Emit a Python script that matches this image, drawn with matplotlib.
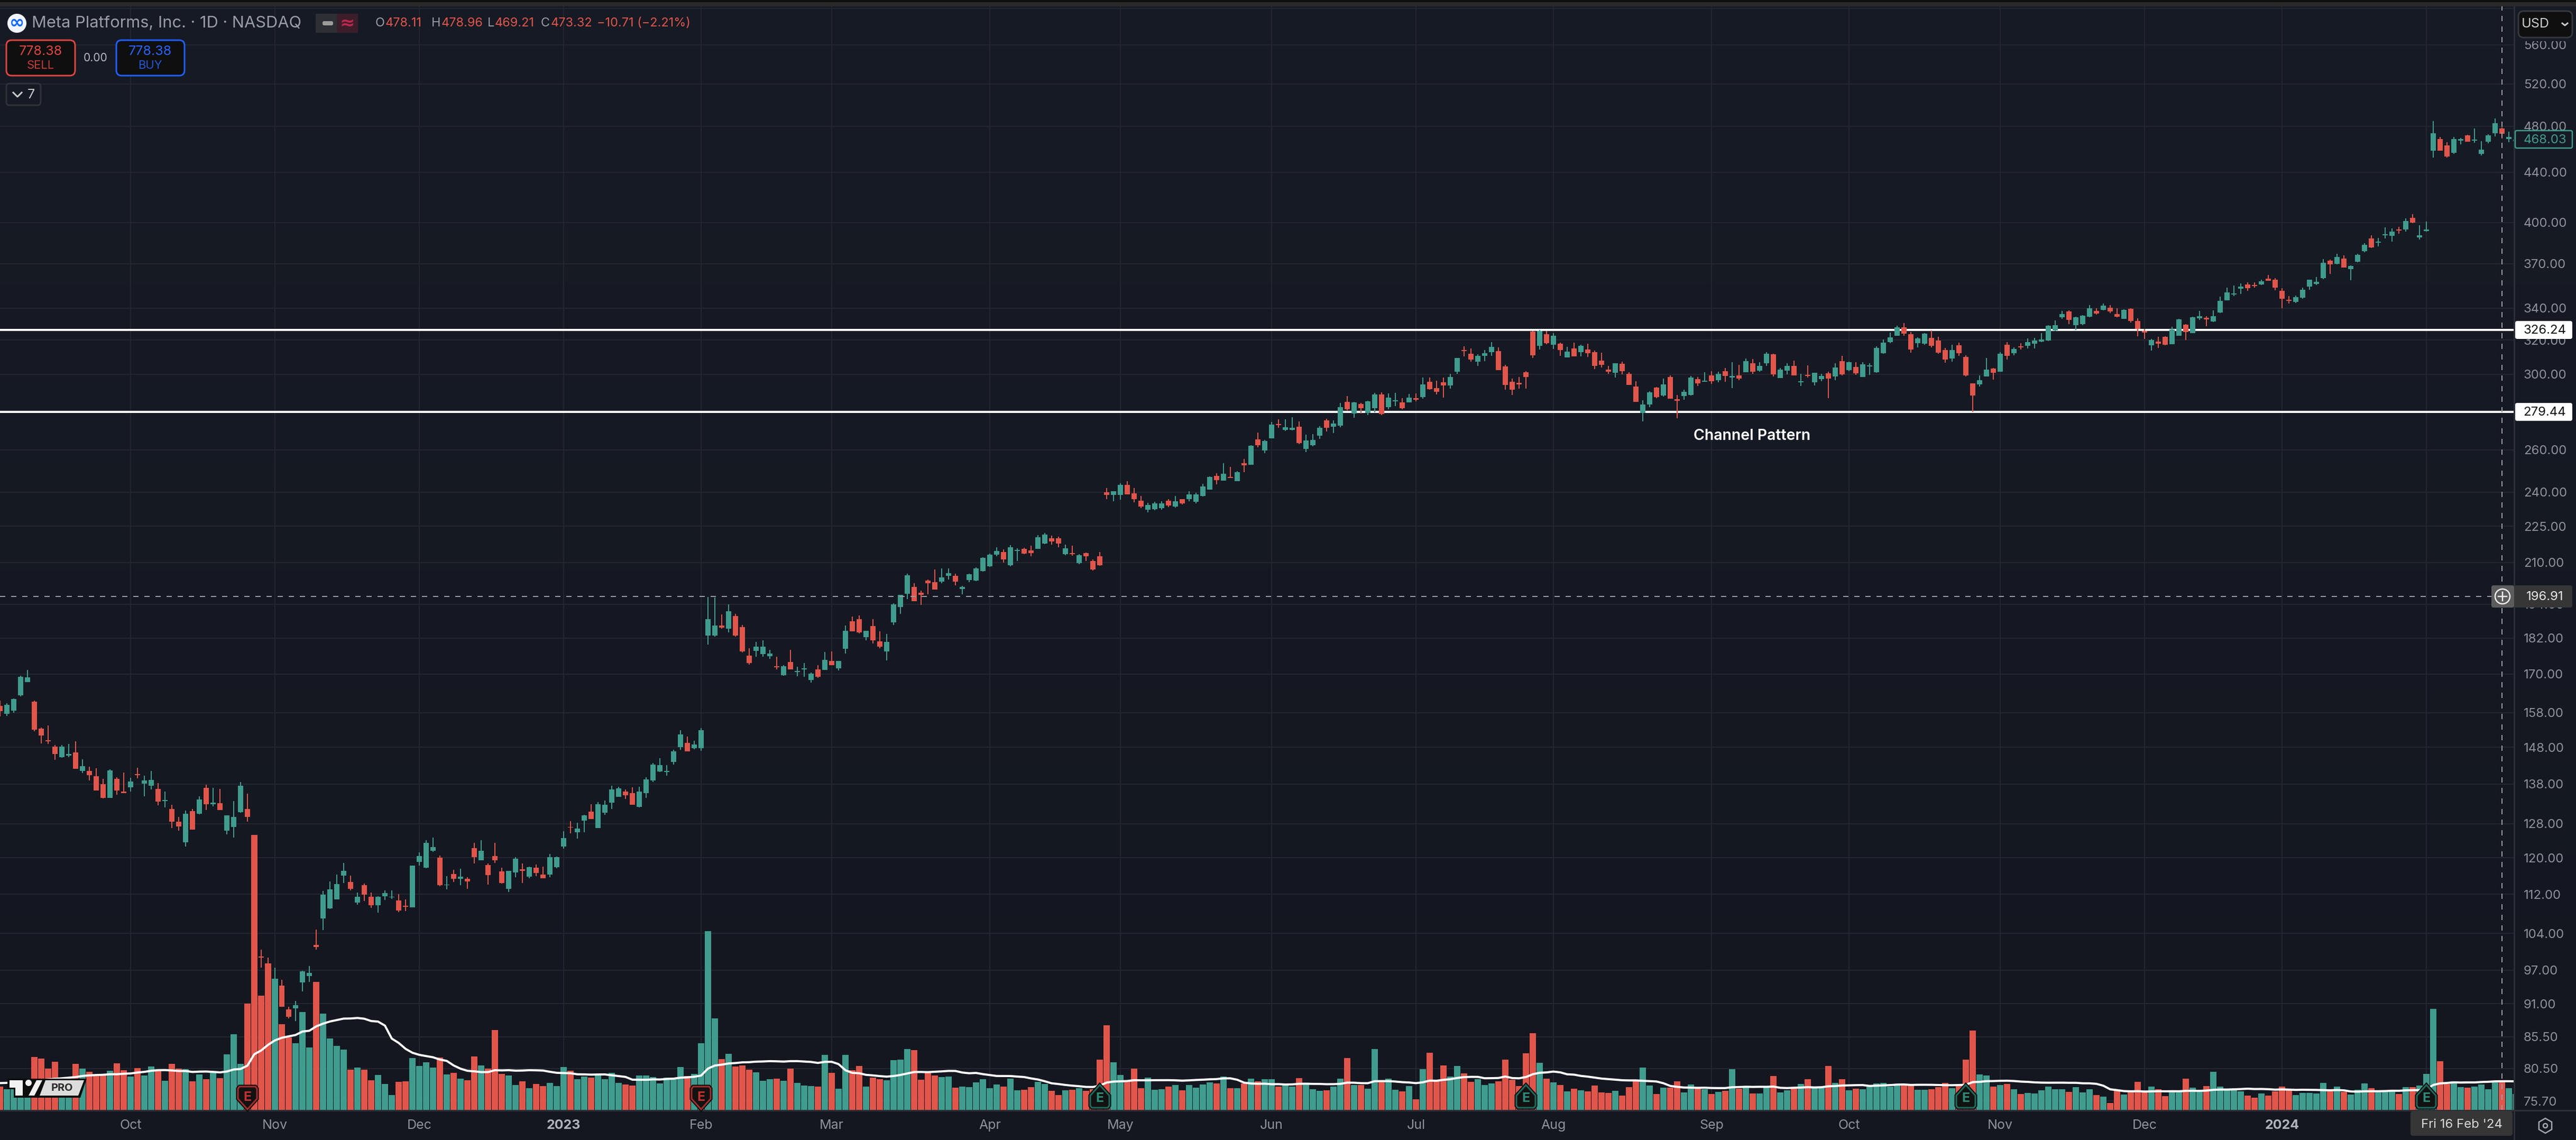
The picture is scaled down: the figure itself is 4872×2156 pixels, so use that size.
import numpy as np
import pandas as pd
import matplotlib
matplotlib.use("Agg")
import matplotlib.pyplot as plt
from matplotlib.patches import Rectangle, FancyBboxPatch, Polygon, Circle, RegularPolygon
from matplotlib.ticker import NullLocator

plt.rcParams['font.family'] = ['Inter', 'DejaVu Sans']
plt.rcParams['lines.scale_dashes'] = False

opens = [
160.0,157.6,158.6,163.2,167.4,161.4,153.3,150.0,148.1,145.2,
145.7,146.5,141.5,141.5,140.1,138.0,134.5,139.4,136.1,137.1,
140.7,138.1,137.6,136.8,133.6,131.7,128.5,123.6,131.1,130.4,
137.0,132.8,133.1,126.3,127.2,130.8,131.7,108.0,99.5,98.0,
93.0,94.2,90.0,90.2,94.8,95.9,101.7,107.0,109.0,110.9,
116.0,114.6,110.2,113.9,111.5,109.7,111.6,111.3,110.7,109.6,
109.3,119.1,117.8,121.6,120.0,113.9,116.4,115.3,115.3,122.2,
119.4,118.4,120.4,116.9,113.2,116.7,117.4,115.8,117.8,116.2,
116.2,117.9,122.6,127.2,125.9,128.8,131.0,127.0,130.7,133.2,
134.7,136.1,135.7,132.1,135.7,138.9,141.4,141.2,143.9,148.0,
149.2,147.7,147.7,182.9,182.9,186.3,185.2,189.7,185.9,176.1,
177.7,176.6,175.9,172.6,169.7,174.0,170.6,171.5,168.1,171.5,
171.3,174.3,171.8,178.3,187.9,188.7,182.3,186.2,180.8,177.5,
187.5,193.0,197.9,200.5,198.4,203.0,202.4,202.6,204.8,204.7,
199.8,203.2,203.0,206.6,208.6,213.1,214.2,209.0,214.6,215.5,
214.8,215.5,217.7,219.9,219.9,213.3,213.7,209.7,213.7,210.7,
212.5,240.0,238.8,238.6,243.3,239.5,236.1,232.0,232.4,232.8,
236.1,233.5,236.9,236.9,235.6,238.3,241.0,247.5,245.3,247.0,
245.0,253.5,252.8,265.2,259.7,265.7,273.1,270.0,270.0,271.6,
260.5,262.3,267.0,275.0,271.6,272.2,284.8,278.6,283.6,278.8,
281.4,288.8,282.0,285.0,284.5,284.5,286.7,287.3,295.8,292.3,
295.5,293.8,301.5,314.1,311.9,307.3,310.7,312.9,313.5,304.6,
295.8,295.2,301.3,325.4,316.8,323.8,317.3,317.9,309.8,315.0,
312.9,314.4,312.9,307.9,302.8,301.0,306.0,300.3,293.1,278.8,
283.3,292.6,288.2,298.5,286.2,287.9,288.5,297.3,295.8,299.4,
296.7,301.8,298.1,299.4,301.2,306.4,302.1,306.4,311.7,297.8,
302.1,304.9,295.5,299.7,295.5,297.2,300.6,298.7,307.5,302.3,
304.1,298.4,304.4,301.1,312.2,318.9,322.8,328.0,323.7,318.2,
317.9,321.4,319.9,314.2,309.2,317.0,310.0,294.8,294.3,298.7,
303.2,301.4,317.3,312.2,316.3,316.6,317.9,319.2,319.9,326.0,
334.2,337.9,329.2,329.9,334.5,338.2,338.9,340.3,336.2,333.2,
339.6,331.9,325.7,317.0,319.2,322.1,317.6,322.8,329.6,324.3,
333.6,333.8,331.5,337.2,345.1,348.9,352.8,355.6,355.2,355.6,
359.5,358.8,351.4,345.5,344.1,346.9,354.2,356.0,359.9,372.0,
369.8,373.5,366.0,371.3,378.8,388.0,385.0,390.4,390.0,394.7,
394.7,403.5,388.8,393.5,458.1,468.7,463.1,456.7,467.0,471.9,
467.0,455.7,466.2,473.7,478.11,468.5,466.5]
highs = [
161.6,160.9,162.3,169.5,171.3,161.6,153.6,154.2,148.6,148.6,
148.9,149.7,144.7,142.6,142.2,139.4,141.9,139.8,141.1,139.7,
142.4,140.2,141.5,138.3,136.0,132.7,129.7,131.2,131.7,134.9,
137.9,137.0,136.8,130.1,133.6,138.5,135.5,110.0,100.8,99.3,
97.5,95.2,90.5,91.5,96.9,97.8,104.8,112.7,114.8,116.2,
118.8,116.0,112.4,114.3,112.4,111.6,112.8,112.8,112.0,110.9,
118.2,121.2,124.1,124.7,120.5,115.9,117.3,117.5,115.7,123.4,
124.1,118.7,123.4,117.8,117.1,120.2,118.7,118.0,118.5,118.0,
120.9,120.3,126.2,128.7,128.2,130.2,132.8,133.3,133.7,137.6,
137.3,136.6,137.2,137.3,139.8,143.6,145.0,143.1,147.2,152.9,
151.0,149.8,153.4,196.8,196.5,190.4,194.0,190.6,186.5,178.5,
180.7,181.3,177.9,175.6,172.9,177.9,172.4,173.5,170.4,172.8,
177.3,177.5,174.3,186.3,189.5,190.0,184.6,188.7,184.3,183.4,
194.4,197.5,205.7,201.9,199.2,203.4,207.3,207.7,207.6,205.7,
201.0,205.7,208.0,212.0,213.5,216.1,215.3,217.0,215.7,215.9,
216.8,221.2,222.1,221.0,220.6,217.3,216.8,213.3,214.0,211.2,
214.2,241.9,240.4,244.1,245.0,241.9,238.3,235.2,235.6,235.9,
236.9,238.3,236.9,240.4,239.7,243.8,247.2,248.7,253.5,251.8,
249.8,255.6,262.3,268.6,264.8,274.1,275.5,275.5,276.6,274.4,
267.6,267.8,272.0,275.8,275.0,284.2,287.9,284.8,284.2,285.3,
289.6,289.9,289.3,289.6,286.7,289.0,289.3,298.2,298.2,296.4,
298.2,300.3,309.5,316.3,315.0,311.6,314.1,318.9,315.7,305.5,
297.6,298.5,301.8,325.7,326.3,325.7,324.4,318.5,316.0,318.5,
317.3,317.9,313.8,312.6,304.8,306.4,307.3,301.3,296.1,285.6,
290.4,292.9,297.6,299.4,288.5,291.4,299.1,298.5,301.3,301.8,
301.5,303.5,307.0,305.5,309.2,308.9,306.9,312.9,312.0,303.6,
306.4,307.8,300.3,305.2,300.9,300.3,301.5,306.3,310.6,307.2,
306.9,306.9,306.3,316.3,320.5,324.7,328.9,330.6,325.0,321.7,
324.3,326.0,322.1,315.4,317.3,318.5,310.9,294.8,299.3,309.4,
303.5,312.9,318.8,315.7,318.2,321.1,321.4,324.3,329.2,332.2,
338.2,338.5,334.5,335.5,342.0,339.9,343.0,342.0,339.9,339.2,
339.9,333.6,327.0,320.8,322.1,322.5,328.2,333.2,329.9,334.5,
338.2,334.8,338.5,347.5,353.5,354.9,356.3,357.0,357.0,358.8,
362.1,359.9,353.2,347.9,348.2,353.5,358.8,360.6,373.1,372.7,
376.9,375.7,368.6,376.9,384.6,390.3,388.4,396.4,395.6,396.7,
403.1,406.3,397.9,400.8,484.8,470.6,465.6,470.6,469.5,472.5,
478.0,466.8,473.0,487.2,478.96,475.0,470.6]
lows = [
156.8,157.1,157.9,163.0,167.4,152.6,149.1,148.9,144.5,145.1,
145.2,142.0,140.9,139.0,136.3,134.3,134.4,135.3,135.6,136.1,
139.5,134.9,136.6,132.6,132.0,127.0,126.3,122.6,126.6,130.3,
131.4,132.3,131.4,125.5,124.7,130.7,128.5,96.0,97.5,92.5,
92.5,90.5,88.5,88.1,93.2,94.9,100.8,104.6,108.9,110.9,
114.4,112.8,109.8,110.6,109.1,108.2,110.8,111.0,108.3,108.5,
109.3,118.3,117.7,121.4,113.7,113.0,114.6,113.9,113.2,118.7,
119.4,114.1,118.9,114.3,112.5,115.7,114.4,115.5,115.9,115.5,
115.7,117.7,122.1,125.7,124.4,126.0,129.2,127.0,130.2,131.6,
134.7,134.2,132.7,132.0,134.5,138.5,141.2,140.2,143.2,147.3,
146.8,147.4,147.0,179.8,182.5,185.2,184.0,182.5,177.0,173.1,
175.6,175.6,175.0,171.5,169.4,171.5,169.3,169.1,167.2,168.7,
171.3,172.8,171.1,176.8,184.3,183.6,181.2,180.1,178.5,174.4,
186.5,190.6,195.9,195.2,193.8,197.7,199.5,202.0,203.4,201.2,
197.7,202.4,202.8,206.4,208.2,212.5,209.9,208.6,210.5,213.3,
212.5,215.5,217.5,217.3,216.1,212.9,212.7,209.4,210.7,206.9,
208.8,236.9,235.9,236.6,239.0,235.4,232.8,231.0,231.8,232.2,
233.2,233.0,234.4,235.9,235.0,237.9,241.0,243.6,245.3,246.5,
245.0,249.3,252.8,261.2,258.4,265.7,271.1,269.5,269.7,262.8,
258.9,261.8,265.4,269.2,268.4,271.4,280.3,276.4,278.6,277.7,
279.1,277.7,280.8,282.5,280.8,284.5,285.0,286.4,291.4,288.8,
287.0,292.0,300.3,310.4,307.3,304.9,307.6,310.7,302.5,291.4,
288.5,292.0,292.0,309.4,314.4,317.7,314.8,310.7,309.8,310.4,
310.4,310.1,303.0,304.0,300.3,298.2,300.0,294.0,284.8,274.4,
282.0,286.7,287.6,286.4,276.0,285.9,288.2,293.5,295.8,294.6,
295.5,295.8,292.3,296.7,301.2,300.3,301.5,304.9,298.8,297.8,
300.0,299.4,293.5,298.2,293.8,296.1,286.8,296.6,299.3,301.7,
299.6,298.4,299.6,300.8,311.9,318.2,322.8,322.8,312.6,315.7,
317.3,315.7,311.9,306.7,307.2,310.6,298.7,279.4,293.1,298.7,
296.9,301.4,308.4,311.0,314.4,315.1,315.1,318.9,319.6,325.7,
333.2,329.9,326.3,329.2,334.2,335.9,338.5,336.9,334.2,333.2,
330.9,322.5,320.8,313.9,315.4,317.0,317.6,322.8,320.2,324.3,
332.5,328.6,331.2,336.9,345.1,347.9,349.3,351.4,353.5,355.2,
358.1,351.7,339.9,343.0,343.4,346.3,352.1,355.2,359.2,362.8,
369.4,367.2,358.5,370.9,378.1,381.2,382.2,388.0,385.7,391.6,
393.2,399.5,387.3,393.2,452.2,458.1,452.2,455.7,463.9,466.2,
465.4,454.1,465.0,471.0,469.21,465.6,465.0]
closes = [
158.4,160.4,162.1,169.1,169.0,153.0,151.3,149.7,146.1,148.1,
146.1,142.0,142.7,140.3,136.4,134.4,141.6,136.4,135.6,138.7,
140.4,139.0,139.1,133.5,133.9,128.5,127.4,130.4,126.6,134.0,
132.8,133.2,131.4,130.1,129.7,137.6,129.7,98.0,99.3,93.2,
95.0,90.5,88.8,90.8,96.8,96.5,101.3,111.9,113.0,114.2,
117.1,113.2,111.5,111.9,109.7,111.5,112.3,111.5,108.6,109.4,
118.2,120.4,123.5,122.5,114.0,114.1,115.3,115.8,114.7,120.2,
121.6,116.1,119.4,114.4,117.1,119.8,117.1,117.9,116.6,115.5,
120.2,120.2,124.6,127.1,126.9,130.0,129.2,132.8,132.7,136.6,
136.9,135.1,132.7,136.1,139.2,143.2,143.1,141.5,146.9,151.6,
146.8,148.8,152.9,188.6,186.3,185.6,191.4,182.9,177.5,173.6,
179.1,179.1,176.8,172.2,172.6,171.5,171.0,171.8,170.1,169.1,
174.7,172.9,174.3,184.6,184.3,184.0,184.5,181.3,179.1,180.6,
194.0,197.5,204.9,195.2,197.5,201.9,199.5,204.1,205.9,202.6,
200.6,205.3,207.7,211.8,213.1,214.6,211.2,216.1,215.1,213.5,
213.7,220.3,221.4,218.6,217.7,215.7,213.3,212.9,212.5,207.3,
209.0,238.6,240.4,243.3,239.0,236.7,233.5,234.2,234.8,235.0,
233.9,235.9,235.0,239.0,239.0,242.6,246.9,245.5,248.5,246.5,
249.3,252.5,262.0,262.3,264.5,272.8,272.5,271.4,271.1,263.3,
264.6,264.8,271.1,271.1,273.3,282.0,280.8,284.5,281.4,285.0,
288.8,278.3,287.0,285.6,281.4,287.0,285.9,294.4,291.7,290.3,
293.8,298.5,309.5,313.5,308.5,310.7,312.2,316.0,302.5,294.0,
291.4,294.4,298.5,311.0,325.7,318.3,322.8,314.1,313.2,310.4,
316.7,312.2,304.8,305.5,301.5,306.4,301.8,294.0,284.8,283.3,
289.8,287.3,294.4,286.4,285.3,290.3,298.2,294.9,296.4,296.1,
300.3,299.1,299.0,297.6,307.6,301.5,304.9,312.0,300.0,302.7,
304.9,299.4,296.1,299.1,300.9,299.1,297.5,303.8,299.9,306.9,
300.5,305.7,305.0,315.4,318.5,321.7,328.0,324.1,314.4,321.1,
324.0,316.6,312.6,308.6,314.2,312.2,299.3,288.2,296.6,302.6,
300.8,312.0,310.6,314.8,315.7,318.9,319.9,320.5,328.9,329.2,
336.2,332.5,334.2,335.2,339.9,336.5,341.6,337.9,334.5,338.9,
331.9,327.0,324.7,320.2,317.9,317.3,326.6,332.9,325.0,334.2,
334.8,332.9,334.8,344.7,350.3,349.6,354.2,353.1,354.5,357.7,
358.1,353.5,346.3,344.8,347.2,352.1,358.8,357.4,370.5,369.4,
374.6,367.2,368.2,376.1,383.4,381.6,385.7,391.2,393.2,393.9,
401.1,399.9,390.4,394.7,473.7,458.1,453.2,468.7,468.7,466.2,
468.1,459.0,471.9,482.9,473.32,470.6,468.03]
volumes = [
20.4,17.9,19.0,24,24,46.2,44.8,35.8,42,25,
25,40,35.8,33.3,30.8,30.8,34.2,40.6,34.7,29.1,
36.4,29.7,37.8,34.4,25.5,40,35.8,35.6,24.9,30.8,
26.9,33.3,27.7,48.4,65.8,40,92.4,239.4,99.4,127.4,
114,74.5,63,58,85.1,54.3,111.2,83.7,62.2,55.7,
52.4,35,37,35,25.8,30.5,22.7,12.9,24.4,24.9,
45.1,38.4,41.4,37,45.6,30.8,32.2,27.2,25.8,46.5,
38.6,35.8,69.4,31.4,30,21.8,24.9,18.9,22.5,20.7,
23.5,20.7,37.3,34,26.7,29,28.1,29.9,26.7,32.2,
23.5,22.1,21.2,29.9,29.9,28.5,23,28.1,28.1,37.3,
29.4,31.3,58,155.4,79.6,44.2,48.8,37.7,38.6,35,
32.7,25.3,26.7,27.1,25.3,35.9,23.5,21.2,20.7,20.2,
47.8,32.2,18.4,47.8,34.5,38.2,20.2,28.1,26.7,25.8,
43.2,43.7,52.9,52,26.2,32.7,29.9,28.5,29,19.3,
20.2,19.8,23.9,26.7,18.9,22.1,20.2,27.1,17,17.5,
19.8,24.4,22.5,16.6,12.9,17,17.5,18.9,16.6,18,
43.7,73.6,41.4,30.4,24.8,35.9,18.9,28.1,17.5,17.9,
20.2,21.6,17,21.6,19.3,22.1,23.9,23,29,18.9,
18.9,23,27.1,24.8,26.7,26.7,20.2,21.2,20.2,27.6,
22.5,17.9,16.6,17,20.2,27.1,45.1,21.6,21.6,18.4,
52.9,24.8,27.1,17.5,16.1,20.7,9.2,35.4,49.7,24.8,
38.6,29,38.2,31.7,24.4,26.7,21.6,23,24.8,43.7,
26.2,20.7,49.2,66.7,40.9,27.1,23.9,21.6,16.1,18.4,
17,16.1,21.2,15.2,14.7,16.6,12.4,19.8,24.8,36.8,
21.2,13.8,19.3,19.3,24.8,15.2,22.1,18.4,17.9,13.8,
15.6,16.6,35.4,18.4,19.3,14.3,14.3,19.3,29.4,15.2,
17,18.9,22.5,26.7,19.3,19.3,38.2,23.5,26.7,17,
18.4,17.9,20.7,23,23.5,20.2,22.5,21.6,21.6,17.5,
17.5,17.9,19.8,23.5,18.9,21.8,43.7,69,30.8,29.9,
20.2,21.6,22.5,17.9,13.8,14.7,14.3,17,20.2,17.9,
17.9,15.6,19.8,15.2,17.9,12.9,11.5,6,16.4,13.3,
16.1,24.4,16.1,20.2,17.9,12,16.1,16.1,27.1,19.3,
16.1,20.7,33.1,20.2,17.5,17,16.1,12.4,10.6,14.3,
12.4,16.1,20.2,17,12.9,14.7,14.7,14.3,23.5,17,
20.2,15.6,13.3,17.5,23,18.9,15.6,15.6,15.6,13.8,
19.8,19.8,21.2,31.3,87.8,42.3,22.5,24.8,19.8,19.3,
20.2,22.1,17.9,24.8,24.8,18.9,13.8]
# the 20-bar volume average before enough bars are on the chart
volume_ma_start = [23.3,23.5,24,24.5,25,25.5,26,26.5,27,27.5,28,28.5,29.5,30,30.3,30.5,31,31,31.4]

month_positions = [19,40,61,82,102,121,144,163,185,206,226,249,269,291,312,332,353]
# the last month's label sits under the date tag in the reference, so only its grid line shows
month_labels = ['Oct','Nov','Dec','2023','Feb','Mar','Apr','May','Jun','Jul','Aug','Sep','Oct','Nov','Dec','2024','']
price_ticks = [600,560,520,480,440,400,370,340,320,300,280,260,240,225,210,194,182,170,158,148,138,128,120,112,104,97,91,85.5,80.5,75.7]
level_lines = [326.24, 279.44]
crosshair_price = 196.91
crosshair_bar = 364
last_price = 468.03
earnings_bars = [36,102,160,222,286,353]
earnings_beat = [False,False,True,True,True,True]

UP, DOWN = '#3f9c8e', '#e1554b'
GRID = '#23262e'
W, H = 4872, 2156
PX = 0.72  # points per pixel at dpi 100
PLOT_R, PLOT_T, PLOT_B = 4755, 12, 2100

def price_at(y):
    return 560*np.exp(-(y-85)/998)

fig = plt.figure(figsize=(W/100, H/100), dpi=100)

# background
bg = fig.add_axes([0, 0, 1, 1], zorder=-10)
bg.imshow(np.linspace(0, 1, 256)[:, None, None]*np.array([[[20, 23, 32]]])/255
          + (1-np.linspace(0, 1, 256)[:, None, None])*np.array([[[23, 27, 37]]])/255,
          aspect='auto', extent=[0, 1, 0, 1])
bg.axis('off')

rect = [0, (H-PLOT_B)/H, PLOT_R/W, (PLOT_B-PLOT_T)/H]
ax = fig.add_axes(rect, zorder=1)
ax.patch.set_visible(False)
ax2 = fig.add_axes(rect, zorder=2, sharex=ax)
ax2.patch.set_visible(False)

o, h, l, c, v = map(np.array, (opens, highs, lows, closes, volumes))
x = np.arange(len(o))
cols = np.where(c >= o, UP, DOWN)

ax.set_yscale('log')
ax.set_xlim(0, PLOT_R/13)
ax.set_ylim(price_at(PLOT_B), price_at(PLOT_T))
ax.vlines(x, l, h, colors=cols, lw=2*PX, zorder=3)
ax.bar(x, np.abs(c-o), bottom=np.minimum(o, c), width=0.77, color=cols, lw=0, zorder=3)
for lvl in level_lines:
    ax.axhline(lvl, color='white', lw=4*PX, zorder=2)
ax.axhline(crosshair_price, color='#9b9da4', lw=2*PX, ls=(0, (10*PX, 11*PX)), zorder=4)

ax.set_axisbelow(True)
ax.grid(True, color=GRID, lw=2*PX)
ax.yaxis.set_minor_locator(NullLocator())
ax.yaxis.tick_right()
ax.set_yticks(price_ticks)
ax.set_yticklabels(['' if t in (600, 280) else f'{t:.2f}' for t in price_ticks])
ax.yaxis.set_minor_locator(NullLocator())
ax.set_xticks(month_positions)
ax.set_xticklabels(month_labels)
ax.tick_params(axis='y', length=0, pad=18*PX, labelsize=24*PX, labelcolor='#8f929b')
ax.tick_params(axis='x', length=0, pad=17*PX, labelsize=25*PX, labelcolor='#8f929b')
for t in ax.get_xticklabels():
    if t.get_text() in ('2023', '2024'):
        t.set_fontweight('bold')
        t.set_color('#b0b3ba')
for s in ax.spines.values():
    s.set_visible(False)

# volume pane
ax2.set_ylim(-0.46, (2099-PLOT_T)*0.46)
ax2.bar(x, v, width=0.85, color=cols, lw=0, zorder=3)
ma = pd.Series(v).rolling(20).mean().to_numpy()
ma[:len(volume_ma_start)] = volume_ma_start
ax2.plot(x, ma, color='white', lw=4*PX, zorder=4, solid_joinstyle='round')
ax2.axvline(crosshair_bar, color='#9b9da4', lw=2*PX, ls=(0, (10*PX, 10*PX)), zorder=5)
ax2.tick_params(left=False, bottom=False, labelleft=False, labelbottom=False)
for s in ax2.spines.values():
    s.set_visible(False)

# interface furniture, in pixel coordinates
ov = fig.add_axes([0, 0, 1, 1], zorder=5)
ov.set_xlim(0, W)
ov.set_ylim(H, 0)
ov.axis('off')

def box(x0, y0, x1, y1, fc, ec='none', lw=0, r=0, z=2):
    if r:
        p = FancyBboxPatch((x0, y0), x1-x0, y1-y0, boxstyle=f'round,pad=0,rounding_size={r}',
                           fc=fc, ec=ec, lw=lw*PX, zorder=z)
    else:
        p = Rectangle((x0, y0), x1-x0, y1-y0, fc=fc, ec=ec, lw=lw*PX, zorder=z)
    ov.add_patch(p)

def txt(xp, yp, s, size, color, ha='center', weight='normal', z=5, **kw):
    return ov.text(xp, yp, s, fontsize=size*PX, color=color, ha=ha, va='center', fontweight=weight, zorder=z, **kw)

box(0, 0, W, 4, '#0e0e0e')
box(0, 4, W, 12, '#2a2a2a')
box(PLOT_R+1, 12, W, 78, '#171b25', z=1)
ov.plot([PLOT_R, PLOT_R], [12, H], color='#2c2f38', lw=3*PX, zorder=1)
ov.plot([0, W], [PLOT_B, PLOT_B], color='#2c2f38', lw=3*PX, zorder=1)

# header
ov.add_patch(Circle((32, 44), 18, fc='#f2f5ff', ec='none', zorder=2))
txt(32, 43, '\u221e', 34, '#0a66ff', weight='bold', family=['DejaVu Sans'])
txt(60, 44, 'Meta Platforms, Inc. \u00b7 1D \u00b7 NASDAQ', 30.8, '#9a9da6', ha='left')
box(597, 26, 637, 62, '#2e2f35')
box(637, 26, 677, 62, '#3b1e2a')
box(610, 40, 630, 48, '#9c9c9c', r=3, z=3)
txt(657, 44, '\u2248', 34, '#c2254f', family=['DejaVu Sans'], weight='bold')
xpos = 710
for s, col, w in [('O', '#9a9da6', 19), ('478.11', DOWN, 87), ('H', '#9a9da6', 19), ('478.96', DOWN, 87),
                  ('L', '#9a9da6', 14), ('469.21', DOWN, 87), ('C', '#9a9da6', 19), ('473.32', DOWN, 87),
                  ('\u221210.71 (\u22122.21%)', DOWN, 0)]:
    txt(xpos, 44, s, 23.5, col, ha='left')
    xpos += w

# sell / buy boxes
box(12, 76, 142, 143, '#0f0f10', '#e04540', 3, r=10)
txt(77, 97, '778.38', 25, '#e04540')
txt(77, 124, 'SELL', 22, '#c83c38')
txt(181, 110, '0.00', 21, '#b8bac0')
box(220, 76, 349, 143, '#0f0f10', '#1f5fff', 3, r=10)
txt(284, 97, '778.38', 25, '#2962ff')
txt(284, 124, 'BUY', 22, '#2358d8')
box(12, 158, 77, 199, 'none', '#303239', 3, r=6)
ov.plot([25, 33, 41], [175, 183, 175], color='#c9cacd', lw=3*PX, zorder=5)
txt(59, 179, '7', 25, '#c9cacd')

# currency
box(4763, 21, 4865, 71, '#0f0f10', '#36383e', 3, r=10)
txt(4795, 46, 'USD', 25, '#c9cacd')
ov.plot([4846, 4851, 4856], [44, 48, 44], color='#c9cacd', lw=3*PX, zorder=5)

# price tags
box(4757, 607, 4865, 641, 'white', r=4)
txt(4813, 625, f'{level_lines[0]:.2f}', 24, '#111111')
box(4757, 762, 4865, 796, 'white', r=4)
txt(4813, 780, f'{level_lines[1]:.2f}', 24, '#111111')
box(4757, 247, 4865, 280, '#161a24', UP, 2.5, r=3)
txt(4813, 265, f'{last_price:.2f}', 24, UP)
box(4755, 1107, 4865, 1149, '#363636', r=4)
txt(4813, 1129, f'{crosshair_price:.2f}', 24, '#e6e6e6')
box(4712, 1107, 4755, 1149, '#5c5c5c', r=4)
ov.add_patch(Circle((4733, 1128), 14, fc='none', ec='#f0f0f0', lw=2.5*PX, zorder=4))
ov.plot([4725, 4741], [1128, 1128], color='#f0f0f0', lw=2.5*PX, zorder=4)
ov.plot([4733, 4733], [1120, 1136], color='#f0f0f0', lw=2.5*PX, zorder=4)

# date tag and settings icon
box(4559, 2101, 4752, 2148, '#363636', r=5)
txt(4656, 2127, "Fri 16 Feb '24", 24, '#d8d9db')
ov.add_patch(RegularPolygon((4814, 2129), 6, radius=14, fc='none', ec='#a5a7ad', lw=2.5*PX, zorder=4))
ov.add_patch(Circle((4814, 2129), 4, fc='none', ec='#a5a7ad', lw=2.5*PX, zorder=4))

# drawing label
txt(3314, 825, 'Channel Pattern', 28.5, 'white', weight='semibold')

# earnings markers
for bar, beat in zip(earnings_bars, earnings_beat):
    xc = bar*13
    if beat:
        pts = [(xc, 2052), (xc+18, 2072), (xc+18, 2091), (xc+15, 2095), (xc-15, 2095), (xc-18, 2091), (xc-18, 2072)]
        edge, tc, yt = '#1f6a5d', '#2c8a79', 2077
    else:
        pts = [(xc, 2098), (xc+18, 2078), (xc+18, 2059), (xc+15, 2055), (xc-15, 2055), (xc-18, 2059), (xc-18, 2078)]
        edge, tc, yt = '#a62c2c', '#c23030', 2075
    ov.add_patch(Polygon(pts, closed=True, fc='#121212', ec='#0b0b0b', lw=7*PX, zorder=3))
    ov.add_patch(Polygon(pts, closed=True, fc='#121212', ec=edge, lw=3*PX, zorder=4))
    txt(xc, yt, 'E', 25, tc, weight='bold')

# TV logo
ov.add_patch(Polygon([(14, 2040), (164, 2040), (152, 2076), (26, 2076), (26, 2060), (14, 2060)], closed=True, fc='#0d0d0d', ec='none', zorder=3))
ov.add_patch(Polygon([(18, 2043), (43, 2043), (43, 2072), (29, 2072), (29, 2057), (18, 2057)], closed=True, fc='#f2f2f2', ec='none', zorder=4))
ov.add_patch(Circle((54, 2048), 6, fc='#f2f2f2', ec='none', zorder=4))
ov.add_patch(Polygon([(69, 2043), (80, 2043), (65, 2072), (54, 2072)], closed=True, fc='#f2f2f2', ec='none', zorder=4))
ov.add_patch(Polygon([(86, 2043), (159, 2043), (148, 2072), (75, 2072)], closed=True, fc='#dcdcdc', ec='none', zorder=4))
txt(117, 2058, 'PRO', 20, '#2a2a2a', weight='bold')

fig.savefig('out.png', dpi=100)
